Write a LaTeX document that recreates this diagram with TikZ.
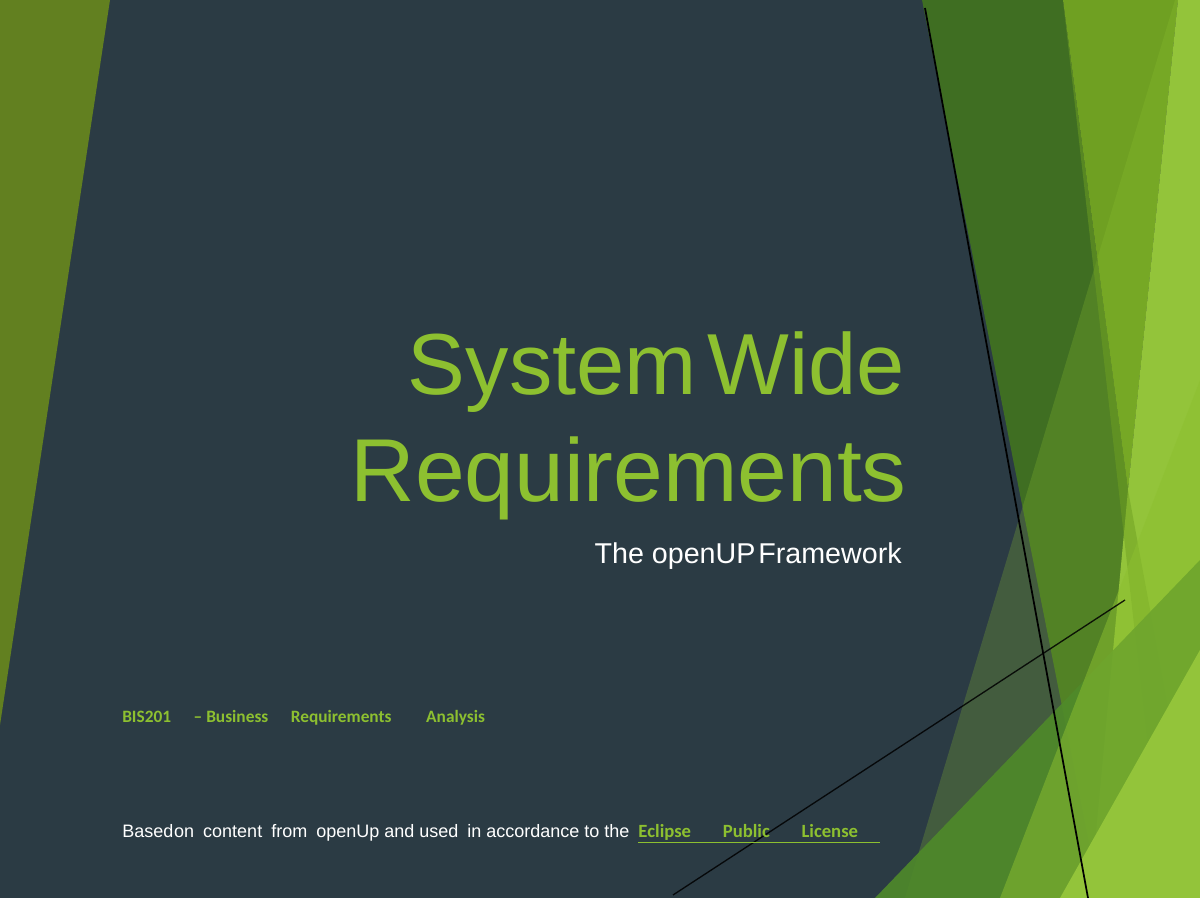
\documentclass[tikz,border=0pt]{standalone}
\usepackage{fontspec}
\setmainfont{Liberation Sans}
\newfontfamily\calfont{Carlito}
\definecolor{bg}{HTML}{2B3B44}
\definecolor{lg}{HTML}{628020}
\definecolor{tg}{HTML}{8DC030}
\definecolor{dg}{HTML}{3F6E22}
\definecolor{mg}{HTML}{6FA022}
\definecolor{bg2}{HTML}{93C43A}
\definecolor{bot}{HTML}{4F8A2A}
\begin{document}
\begin{tikzpicture}[x=0.75pt,y=-0.75pt]
\fill[bg] (0,0) rectangle (1200,898);
\useasboundingbox (0,0) rectangle (1200,898);
\fill[lg] (0,0) -- (110,0) -- (0,725) -- cycle;
% right shapes
\fill[dg] (922,0) -- (1063,0) -- (1128,490) -- (1110,898) -- (1100,898) -- cycle;
\fill[mg] (1063,0) -- (1178,0) -- (1128,490) -- cycle;
\fill[tg,opacity=0.25] (905,898) -- (1175,0) -- (1200,0) -- (1200,898) -- cycle;
\fill[bg2] (1178,0) -- (1200,0) -- (1200,898) -- (1090,898) -- (1128,490) -- cycle;
\fill[mg,opacity=0.5] (1063,0) -- (1128,490) -- (1200,880) -- (1200,898) -- (1165,898) -- cycle;
\fill[bot,opacity=0.9] (1200,560) -- (1200,898) -- (875,898) -- cycle;
\fill[tg,opacity=0.5] (1200,380) -- (1200,898) -- (1000,898) -- cycle;
\fill[bg2] (1200,650) -- (1200,898) -- (1060,898) -- cycle;
\draw[black,line width=1.3pt] (925,8) -- (1088,898);
\draw[black,line width=1pt,opacity=0.85] (673,895) -- (1125,600);
% texts
\node[anchor=base east,text=tg,font=\fontsize{65}{65}\selectfont,inner sep=0] (t1) at (905,395) {System\hspace{0.12em}Wide};
\node[anchor=base east,text=tg,font=\fontsize{67}{67}\selectfont,inner sep=0] (t2) at (907,502) {Requirements};
\node[anchor=base east,text=white,font=\fontsize{21.5}{22}\selectfont,inner sep=0] (st) at (902,563) {The openUP\hspace{0.1em}Framework};
\node[anchor=base west,text=tg,font=\calfont\bfseries\fontsize{13}{13}\selectfont,inner sep=0] (bis) at (122,722) {BIS201\hspace{1.3em}– Business\hspace{1.3em}Requirements\hspace{2em}Analysis};
\node[anchor=base west,text=white,font=\fontsize{13.5}{14}\selectfont,inner sep=0] (ft) at (122,837) {Based\hspace{0.05em}on\hspace{0.5em}content\hspace{0.5em}from\hspace{0.5em}openUp and used\hspace{0.5em}in accordance to the\hspace{0.5em}\textcolor{tg}{\calfont\bfseries\fontsize{14}{14}\selectfont\underline{Eclipse\hspace{1.7em}Public\hspace{1.7em}License\hspace{1.2em}}}};
\end{tikzpicture}
\end{document}
